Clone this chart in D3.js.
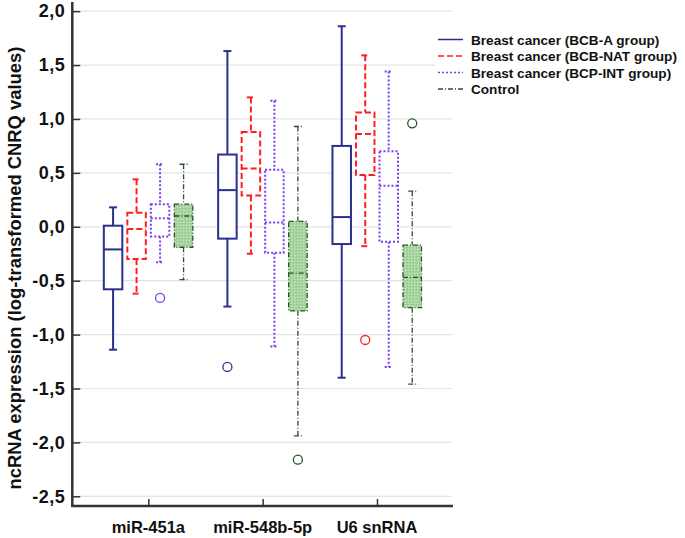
<!DOCTYPE html>
<html>
<head>
<meta charset="utf-8">
<script src="https://cdn.jsdelivr.net/npm/d3@7"></script>
<style>
  body { margin: 0; background: #fff; }
  svg { display: block; font-family: "Liberation Sans", Arial, sans-serif; font-weight: bold; }
</style>
</head>
<body>
<svg id="chart" width="685" height="538"></svg>
<script>
// categories and groups
var categories = ["miR-451a", "miR-548b-5p", "U6 snRNA"];
var groups = ["Breast cancer (BCB-A group)", "Breast cancer (BCB-NAT group)", "Breast cancer (BCP-INT group)", "Control"];

// box statistics, one row per group, one value per category
var whiskerLow = [
  [-1.14, -0.74, -1.40],
  [-0.62, -0.25, -0.18],
  [-0.33, -1.11, -1.30],
  [-0.49, -1.94, -1.46]
];
var q1 = [
  [-0.58, -0.11, -0.16],
  [-0.30,  0.29,  0.48],
  [-0.09, -0.24, -0.14],
  [-0.19, -0.78, -0.75]
];
var median = [
  [-0.21,  0.34,  0.09],
  [-0.02,  0.54,  0.86],
  [ 0.08,  0.04,  0.38],
  [ 0.10, -0.43, -0.47]
];
var q3 = [
  [ 0.01,  0.67,  0.75],
  [ 0.13,  0.88,  1.06],
  [ 0.21,  0.53,  0.70],
  [ 0.21,  0.05, -0.17]
];
var whiskerHigh = [
  [0.18, 1.63, 1.86],
  [0.44, 1.20, 1.59],
  [0.58, 1.17, 1.44],
  [0.58, 0.93, 0.33]
];
// outliers: [group index, category index, value]
var outliers = [
  [0, 1, -1.30],
  [1, 2, -1.05],
  [2, 0, -0.66],
  [3, 1, -2.16],
  [3, 2, 0.96]
];
var yTicks = [-2.5, -2.0, -1.5, -1.0, -0.5, 0.0, 0.5, 1.0, 1.5, 2.0];

var styles = [
  { stroke: "#2b2f8f", dash: null, width: 2, fill: "#fff" },
  { stroke: "#ff1f1f", dash: "6,3", width: 2, fill: "#fff" },
  { stroke: "#7b3cf2", dash: "2,2", width: 2, fill: "#fff" },
  { stroke: "#2a522a", dash: "5,2,1,2", width: 1.3, fill: "url(#stipple)" }
];

var svg = d3.select("#chart");
var plotL = 72.3, plotR = 453, plotT = 2, plotB = 506;

var defs = svg.append("defs");
var pat = defs.append("pattern").attr("id", "stipple")
  .attr("width", 3).attr("height", 3).attr("patternUnits", "userSpaceOnUse");
pat.append("rect").attr("width", 3).attr("height", 3).attr("fill", "#a8d4a0");
pat.append("rect").attr("width", 1).attr("height", 1).attr("fill", "#cbe8c5");
pat.append("rect").attr("x", 2).attr("y", 1).attr("width", 1).attr("height", 1).attr("fill", "#8fc487");

var y = d3.scaleLinear().domain([-2.59, 2.085]).range([plotB, plotT]);
var x = d3.scalePoint().domain(categories).range([plotL, plotR]).padding(0.665);
var sub = d3.scaleBand().domain(d3.range(groups.length)).range([-44.5, 44.5]).paddingInner(0.213);

var locale = d3.formatLocale({ decimal: ",", thousands: ".", grouping: [3], currency: ["", ""], minus: "-" });
var fmt = locale.format(".1f");

// gridlines
svg.append("g").selectAll("line").data(yTicks).join("line")
  .attr("x1", plotL).attr("x2", plotR - 1)
  .attr("y1", function (d) { return y(d); }).attr("y2", function (d) { return y(d); })
  .attr("stroke", "#e4e4e4").attr("stroke-width", 1.2);

// y axis
var yAxis = svg.append("g").attr("transform", "translate(" + plotL + ",0)")
  .call(d3.axisRight(y).tickValues(yTicks).tickSize(8).tickFormat(fmt));
yAxis.select(".domain").remove();
yAxis.selectAll(".tick line").attr("stroke", "#333").attr("stroke-width", 1.5);
yAxis.selectAll(".tick text")
  .attr("x", -7).attr("text-anchor", "end")
  .attr("font-size", 18).attr("font-family", "Liberation Sans, Arial, sans-serif")
  .attr("font-weight", "bold").attr("fill", "#111").attr("letter-spacing", 0.5);

// x axis
var xAxis = svg.append("g").attr("transform", "translate(0," + plotB + ")")
  .call(d3.axisTop(x).tickSize(7).tickFormat(""));
xAxis.select(".domain").remove();
xAxis.selectAll(".tick line").attr("stroke", "#333").attr("stroke-width", 1.5);

svg.append("g").selectAll("text").data(categories).join("text")
  .attr("x", function (d) { return x(d); }).attr("y", 533)
  .attr("text-anchor", "middle").attr("font-size", 16.5).attr("fill", "#111")
  .text(function (d) { return d; });

// axis lines
svg.append("line").attr("x1", plotL).attr("x2", plotL).attr("y1", plotT).attr("y2", plotB + 1)
  .attr("stroke", "#333").attr("stroke-width", 2.5);
svg.append("line").attr("x1", plotL - 1).attr("x2", plotR).attr("y1", plotB).attr("y2", plotB)
  .attr("stroke", "#333").attr("stroke-width", 2.5);

// y title
svg.append("text").attr("transform", "translate(21,268) rotate(-90)")
  .attr("text-anchor", "middle").attr("font-size", 18.4).attr("fill", "#111")
  .text("ncRNA expression (log-transformed CNRQ values)");

// boxes
var capW = 8;
groups.forEach(function (g, gi) {
  var st = styles[gi];
  var layer = svg.append("g")
    .attr("stroke", st.stroke).attr("stroke-width", st.width)
    .attr("stroke-dasharray", st.dash).attr("fill", "none");
  categories.forEach(function (c, ci) {
    var cx = x(c) + sub(gi) + sub.bandwidth() / 2;
    var bw = sub.bandwidth();
    layer.append("line").attr("x1", cx).attr("x2", cx)
      .attr("y1", y(whiskerHigh[gi][ci])).attr("y2", y(q3[gi][ci]));
    layer.append("line").attr("x1", cx).attr("x2", cx)
      .attr("y1", y(q1[gi][ci])).attr("y2", y(whiskerLow[gi][ci]));
    layer.append("line").attr("x1", cx - capW / 2).attr("x2", cx + capW / 2)
      .attr("y1", y(whiskerHigh[gi][ci])).attr("y2", y(whiskerHigh[gi][ci]));
    layer.append("line").attr("x1", cx - capW / 2).attr("x2", cx + capW / 2)
      .attr("y1", y(whiskerLow[gi][ci])).attr("y2", y(whiskerLow[gi][ci]));
    layer.append("rect").attr("x", cx - bw / 2).attr("width", bw)
      .attr("y", y(q3[gi][ci])).attr("height", y(q1[gi][ci]) - y(q3[gi][ci]))
      .attr("fill", st.fill);
    layer.append("line").attr("x1", cx - bw / 2).attr("x2", cx + bw / 2)
      .attr("y1", y(median[gi][ci])).attr("y2", y(median[gi][ci]));
  });
});

// outliers
svg.append("g").selectAll("circle").data(outliers).join("circle")
  .attr("cx", function (d) { return x(categories[d[1]]) + sub(d[0]) + sub.bandwidth() / 2; })
  .attr("cy", function (d) { return y(d[2]); })
  .attr("r", 4.5).attr("fill", "#fff")
  .attr("stroke", function (d) { return styles[d[0]].stroke; })
  .attr("stroke-width", 1.3);

// legend
var legend = svg.append("g");
legend.append("rect").attr("x", 435).attr("y", 28).attr("width", 250).attr("height", 72).attr("fill", "#fff");
var rowY = d3.scaleLinear().domain([0, 3]).range([39.5, 89]);
groups.forEach(function (g, gi) {
  var st = styles[gi];
  legend.append("line").attr("x1", 438).attr("x2", 463)
    .attr("y1", rowY(gi)).attr("y2", rowY(gi))
    .attr("stroke", st.stroke).attr("stroke-width", 1.5).attr("stroke-dasharray", st.dash);
  legend.append("text").attr("x", 471).attr("y", rowY(gi) + 5)
    .attr("font-size", 13.6).attr("fill", "#111").text(g);
});
</script>
</body>
</html>
